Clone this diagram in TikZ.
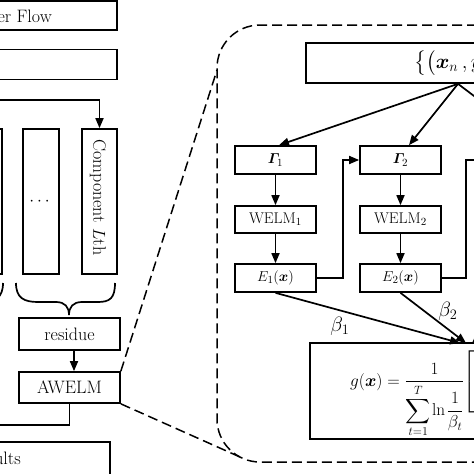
\documentclass[tikz,border=0pt]{standalone}
\usepackage{amsmath,bm}
\usetikzlibrary{arrows.meta,calc}
\begin{document}
\begin{tikzpicture}[x=1pt,y=-1pt,
  box/.style={draw,line width=1.7pt,inner sep=0pt},
  lt/.style={font=\fontsize{18}{21}\selectfont},
  rt/.style={font=\fontsize{15.5}{18}\selectfont},
  ln/.style={line width=1.7pt},
  arr/.style={line width=1.7pt,-{Triangle[length=10pt,width=8pt]}},
  zoomline/.style={line width=1.5pt,dash pattern=on 10pt off 5pt},
  brc/.style={line width=1.7pt}]
\fill[white] (0,0) rectangle (474,474);
\useasboundingbox (0,0) rectangle (474,474);

% ---------- left column ----------
\node[box,minimum width=317pt,minimum height=29pt] (flow) at (-41.5,15.5) {};
\node[lt,anchor=east,inner sep=0pt] (flowtxt) at (52,16) {er Flow};
\node[box,minimum width=317pt,minimum height=30pt] (data) at (-41.5,64.5) {};

\node[box,minimum width=36pt,minimum height=145pt] (c0) at (-16,201.5) {};
\node[box,lt,minimum width=36pt,minimum height=145pt] (cdots) at (41,201.5) {$\cdots$};
\node[box,minimum width=35pt,minimum height=145pt] (cL) at (99.5,201.5) {};
\node[lt,rotate=-90,anchor=west,inner sep=0pt] (cLtxt) at (98,139) {Component $L$th};

\coordinate (inL) at (-20,100);
\draw[arr] (inL) -| (cL.north);

% braces
\draw[brc] (16,283) .. controls (16,298) and (24,302) .. (38,302) -- (56,302)
  .. controls (65,302) and (69,307) .. (69,315)
  .. controls (69,307) and (73,302) .. (82,302) -- (98,302)
  .. controls (110,302) and (115,298) .. (115,283);
\draw[brc] (3,283) .. controls (3,298) and (-5,302) .. (-19,302) -- (-40,302);

\node[box,lt,minimum width=101pt,minimum height=32pt] (res) at (69.5,334) {residue};
\node[box,lt,minimum width=101pt,minimum height=31pt] (aw) at (69.5,387.5) {AWELM};
\draw[arr] ([xshift=4.5pt]res.south) -- ([xshift=4.5pt]aw.north);

\coordinate (outL) at (-20,425);
\draw[ln] (aw.south) |- (outL);

\node[box,minimum width=310pt,minimum height=150pt] (resu) at (-45,517) {};
\node[lt,anchor=base east,inner sep=0pt] (resutxt) at (21,464) {ults};

% ---------- zoom frame ----------
\node[draw,line width=1.5pt,dash pattern=on 10pt off 5pt,rounded corners=43pt,
  minimum width=483pt,minimum height=437pt,inner sep=0pt] (zoom) at (458.5,243.5) {};
\coordinate (zt) at (217,70);
\coordinate (zb) at (240,457);
\draw[zoomline] (aw.north east) -- (zt);
\draw[zoomline] (aw.south east) -- (zb);

% ---------- right panel ----------
\node[box,minimum width=304pt,minimum height=40pt] (D) at (458,63) {};
\node[anchor=west,inner sep=0pt,font=\fontsize{20}{24}\selectfont] (Dtxt) at (414,63)
  {$\bigl\{\bigl(\bm{x}_n\,, y_n$};

\node[box,rt,minimum width=81pt,minimum height=28pt] (G1) at (275.5,160) {$\bm{\varGamma}_1$};
\node[box,rt,minimum width=81pt,minimum height=28pt] (G2) at (400.5,160) {$\bm{\varGamma}_2$};
\coordinate (G3n) at (540,146);
\coordinate (G3w) at (493,160);

\node[box,rt,minimum width=81pt,minimum height=27pt] (W1) at (275.5,219.5) {WELM$_1$};
\node[box,rt,minimum width=81pt,minimum height=27pt] (W2) at (400.5,219.5) {WELM$_2$};

\node[box,rt,minimum width=81pt,minimum height=28pt] (E1) at (275.5,278) {$E_1(\bm{x})$};
\node[box,rt,minimum width=81pt,minimum height=28pt] (E2) at (400.5,278) {$E_2(\bm{x})$};
\coordinate (E3s) at (528,292);

\draw[arr] (D.south) -- ([xshift=3.5pt]G1.north);
\draw[arr] (D.south) -- ([xshift=8.5pt]G2.north);
\draw[arr] (D.south) -- (G3n);

\draw[arr] (G1) -- (W1);
\draw[arr] (W1) -- (E1);
\draw[arr] (G2) -- (W2);
\draw[arr] (W2) -- (E2);

\draw[arr] (E1.east) -- ++(26,0) |- (G2.west);
\draw[arr] (E2.east) -- ++(24,0) |- (G3w);

\node[box,minimum width=300pt,minimum height=96pt] (g) at (460,391) {};
\coordinate (gt1) at (460,343);
\coordinate (gt2) at (466,343);
\coordinate (gt3) at (472,343);
\draw[arr] (E1.south) -- (gt1);
\draw[arr] (E2.south) -- (gt2);
\draw[arr] (E3s) -- (gt3);

\node[font=\fontsize{22}{26}\selectfont,inner sep=0pt] (b1) at (340,326) {$\beta_1$};
\node[font=\fontsize{22}{26}\selectfont,inner sep=0pt] (b2) at (448,311) {$\beta_2$};

\node[anchor=base west,inner sep=0pt,font=\fontsize{18}{21}\selectfont] (gf) at (350,386)
  {$g(\bm{x})=\dfrac{1}{\displaystyle\sum_{t=1}^{T}\mskip-1.5mu\ln\mskip-1.5mu\dfrac{1}{\beta_t}}\mskip-4mu\left[\rule[-21pt]{0pt}{54pt}\right.$};
\end{tikzpicture}
\end{document}
